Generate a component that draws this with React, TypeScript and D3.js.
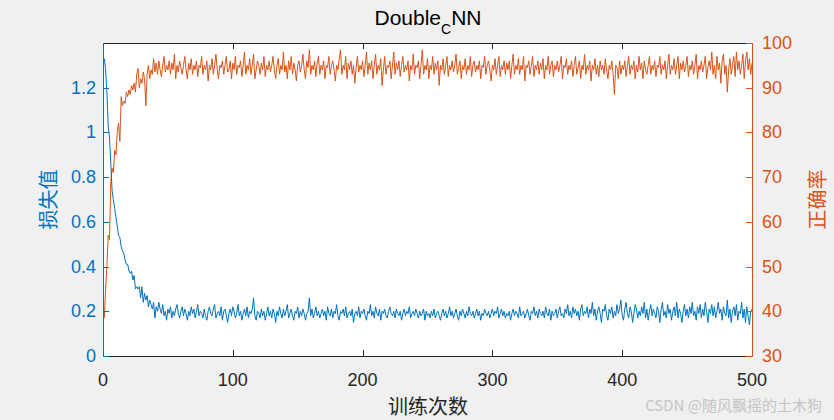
import React from "react";
import * as d3 from "d3";

const lossValues: number[] = [
  1.33, 1.28, 1.18, 1.03, 0.98, 0.86, 0.74, 0.70, 0.66, 0.62,
  0.58, 0.54, 0.53, 0.49, 0.47, 0.46, 0.43, 0.41, 0.41, 0.38,
  0.37, 0.38, 0.34, 0.36, 0.30, 0.31, 0.30, 0.31, 0.26, 0.31,
  0.24, 0.28, 0.25, 0.27, 0.22, 0.25, 0.23, 0.21, 0.24, 0.17,
  0.22, 0.20, 0.24, 0.21, 0.19,
  0.23, 0.18, 0.20, 0.16, 0.21, 0.19, 0.22, 0.17, 0.20, 0.18,
  0.21, 0.23, 0.19, 0.17, 0.20, 0.22, 0.18, 0.21, 0.19, 0.16,
  0.20, 0.18, 0.22, 0.19, 0.21, 0.17, 0.20, 0.23, 0.18, 0.20,
  0.19, 0.17, 0.21, 0.18, 0.16, 0.20, 0.22, 0.19, 0.18, 0.21,
  0.23, 0.17, 0.19, 0.20, 0.18, 0.22, 0.16, 0.20, 0.21, 0.18,
  0.15, 0.19, 0.21, 0.18, 0.22, 0.20, 0.17, 0.19, 0.23, 0.18,
  0.20, 0.16, 0.19, 0.21, 0.18, 0.22, 0.17, 0.20, 0.19, 0.21,
  0.26, 0.18, 0.16, 0.20, 0.19, 0.17, 0.21, 0.18, 0.20, 0.16,
  0.19, 0.22, 0.18, 0.20, 0.17, 0.21, 0.19, 0.15, 0.20, 0.18,
  0.22, 0.19, 0.17, 0.21, 0.18, 0.20, 0.23, 0.17, 0.19, 0.21,
  0.18, 0.16, 0.20, 0.19, 0.22, 0.17, 0.20, 0.18, 0.21, 0.19,
  0.16, 0.19, 0.20, 0.26, 0.18, 0.21, 0.17, 0.19, 0.22, 0.18,
  0.20, 0.17, 0.19, 0.21, 0.18, 0.20, 0.16, 0.22, 0.19, 0.18,
  0.21, 0.17, 0.20, 0.19, 0.23, 0.18, 0.16, 0.20, 0.19, 0.21,
  0.18, 0.22, 0.17, 0.19, 0.20, 0.18, 0.21, 0.15, 0.19, 0.20,
  0.18, 0.22, 0.17, 0.20, 0.19, 0.21, 0.18, 0.16, 0.20, 0.19,
  0.23, 0.18, 0.20, 0.17, 0.22, 0.19, 0.18, 0.21, 0.16, 0.20,
  0.19, 0.21, 0.18, 0.17, 0.20, 0.22, 0.19, 0.18, 0.20, 0.17,
  0.21, 0.19, 0.18, 0.20, 0.16, 0.19, 0.21, 0.18, 0.20, 0.19,
  0.22, 0.17, 0.19, 0.20, 0.18, 0.21, 0.19, 0.17, 0.20, 0.18,
  0.19, 0.21, 0.16, 0.20, 0.18, 0.19, 0.17, 0.20, 0.18, 0.21,
  0.17, 0.19, 0.20, 0.18, 0.16, 0.19, 0.21, 0.18, 0.20, 0.17,
  0.19, 0.22, 0.18, 0.20, 0.17, 0.19, 0.21, 0.18, 0.16, 0.20,
  0.18, 0.21, 0.19, 0.17, 0.20, 0.18, 0.22, 0.19, 0.18, 0.20,
  0.17, 0.19, 0.21, 0.18, 0.20, 0.16, 0.19, 0.18, 0.21, 0.19,
  0.18, 0.20, 0.17, 0.19, 0.21, 0.18, 0.20, 0.19, 0.22, 0.17,
  0.19, 0.21, 0.18, 0.20, 0.17, 0.19, 0.18, 0.20, 0.16, 0.19,
  0.21, 0.18, 0.20, 0.19, 0.17, 0.22, 0.18, 0.19, 0.20, 0.17,
  0.19, 0.21, 0.18, 0.16, 0.20, 0.19, 0.22, 0.18, 0.20, 0.17,
  0.21, 0.19, 0.18, 0.20, 0.17, 0.22, 0.19, 0.18, 0.21, 0.16,
  0.20, 0.18, 0.19, 0.21, 0.17, 0.20, 0.22, 0.18, 0.19, 0.17,
  0.21, 0.19, 0.23, 0.18, 0.20, 0.17, 0.22, 0.19, 0.21, 0.18,
  0.20, 0.16, 0.21, 0.23, 0.18, 0.20, 0.19, 0.22, 0.17, 0.21,
  0.19, 0.24, 0.18, 0.21, 0.16, 0.20, 0.22, 0.19, 0.15, 0.21,
  0.20, 0.23, 0.18, 0.16, 0.21, 0.19, 0.22, 0.17, 0.20, 0.18,
  0.23, 0.19, 0.21, 0.25, 0.18, 0.16, 0.21, 0.24, 0.19, 0.17,
  0.22, 0.20, 0.15, 0.19, 0.23, 0.21, 0.17, 0.20, 0.18, 0.22,
  0.19, 0.24, 0.17, 0.21, 0.16, 0.20, 0.23, 0.18, 0.21, 0.19,
  0.17, 0.22, 0.20, 0.15, 0.21, 0.24, 0.18, 0.20, 0.17, 0.23,
  0.19, 0.21, 0.16, 0.20, 0.22, 0.18, 0.24, 0.17, 0.21, 0.19,
  0.15, 0.20, 0.23, 0.18, 0.21, 0.17, 0.22, 0.19, 0.24, 0.18,
  0.20, 0.16, 0.22, 0.19, 0.23, 0.17, 0.21, 0.18, 0.24, 0.20,
  0.15, 0.21, 0.19, 0.23, 0.18, 0.22, 0.17, 0.20, 0.24, 0.19,
  0.21, 0.16, 0.22, 0.19, 0.18, 0.25, 0.17, 0.21, 0.15, 0.20,
  0.22, 0.18, 0.23, 0.16, 0.20, 0.19, 0.24, 0.17, 0.21, 0.15,
  0.22, 0.18, 0.14, 0.20, 0.21,
];

const accValues: number[] = [
  38.5, 45, 50, 57, 56, 69, 72, 71, 76, 75,
  80, 82, 78, 88, 86, 87, 86.5, 89, 88, 89.5,
  88.5, 90.5, 89.5, 91, 89, 93, 94.3, 90, 92, 91,
  93.5, 92, 86, 93, 95, 92, 94, 93, 96.5, 93.5,
  95.5, 93, 96, 94, 92.5, 95, 97, 93.5, 95, 94,
  96, 93, 95.5, 94, 97.5, 92, 95, 93.5, 96, 94.5,
  93, 95, 97, 94, 92, 95.5, 94, 96.5, 93, 95,
  94, 96, 92.5, 95, 94.5, 97, 93, 95, 94, 96,
  91.5, 95, 94, 96.5, 93, 95, 97.5, 94, 92, 95,
  94.5, 96, 93, 95, 97, 93.5, 94, 96, 92, 95.5,
  94, 97, 93, 95, 94.5, 96, 92.5, 95, 98, 93,
  95, 94, 96.5, 93, 95, 97.5, 92, 94, 96, 95,
  93, 95.5, 94, 97, 92.5, 95, 94, 96, 93.5, 95,
  97, 94, 92, 95, 96.5, 93, 95, 94, 98, 93.5,
  95, 92, 96, 94, 97, 93, 95.5, 94, 91.5, 95,
  96, 93.5, 95, 97.5, 94, 92, 96, 94.5, 98.5, 93,
  95, 94, 96, 92.5, 95.5, 97, 93, 95, 94, 96,
  92, 95, 94.5, 97, 93, 95, 96, 94, 91.5, 95,
  94, 96.5, 98.5, 93, 95, 94, 97, 92, 95.5, 94,
  96, 93, 95, 91, 94.5, 97, 93.5, 95, 94, 96,
  92.5, 95, 98, 93, 95.5, 94, 96, 92, 95, 97.5,
  93, 95, 94, 96.5, 90.5, 94, 97, 93, 95, 94.5,
  96, 92, 95, 98, 93, 95.5, 94, 96, 92.5, 95,
  97, 93.5, 95, 94, 96, 91.5, 95, 94, 97.5, 93,
  95, 94.5, 96, 92, 95, 98.5, 93, 95, 94, 96.5,
  92, 95, 94, 97, 93, 95.5, 94, 96, 90.5, 95,
  94, 96.5, 93, 95, 97, 92.5, 95, 94, 96, 93.5,
  95, 97.5, 93, 94.5, 96, 92, 95, 94, 96.5, 93,
  95, 94, 97, 92.5, 95, 96, 93.5, 95, 94, 96,
  92, 95, 94.5, 97, 93, 95, 96, 94, 91.5, 95,
  94, 96.5, 93, 95, 97, 92.5, 95, 94, 96, 93,
  95.5, 94, 96, 92, 95, 97.5, 93, 95, 94, 96.5,
  93, 95, 94, 97, 91.5, 95, 94.5, 96, 93, 95,
  97, 92.5, 95, 94, 96, 93, 95.5, 94, 96.5, 92,
  95, 94, 97, 93, 95, 96, 92.5, 95, 94, 96,
  93.5, 95, 97, 92, 95, 94.5, 96.5, 93, 95, 94,
  96, 92.5, 95, 97, 93, 94.5, 96, 92, 95, 94,
  97.5, 93, 95, 94, 96, 91.5, 95, 94, 96.5, 93,
  95, 92.5, 96, 94, 95, 93, 96.5, 94, 92, 95,
  94, 96, 93, 88.5, 95, 94.5, 92, 96, 93, 95,
  94, 96, 92.5, 95, 97, 93, 95, 94, 96, 92,
  95, 93.5, 97, 94, 95.5, 92, 96, 94, 93, 95,
  97, 93, 95, 94, 96, 92.5, 95, 94.5, 97, 93,
  95, 94, 96, 92, 95, 97.5, 93, 95, 94, 96.5,
  93, 95, 97, 92, 95.5, 94, 96, 93.5, 95, 97,
  92.5, 95, 94, 96, 93, 95, 97.5, 92, 95, 94,
  96, 93.5, 95, 97, 92, 94.5, 96, 94, 98, 93,
  95, 92, 97, 94, 95.5, 91, 96, 97.5, 93, 95,
  89, 94, 96.5, 93, 95, 97, 92.5, 98, 94, 96,
  93, 95, 97.5, 92, 96, 98, 94, 96.5, 93, 95.5,
];

const xTicks = [0, 100, 200, 300, 400, 500];
const lossTicks = [0, 0.2, 0.4, 0.6, 0.8, 1, 1.2];
const accTicks = [30, 40, 50, 60, 70, 80, 90, 100];

const W = 834;
const H = 420;
const L = 103;
const R = 752;
const T = 43;
const B = 356;
const BLUE = "#0072BD";
const ORANGE = "#D95319";
const DARK = "#262626";
const FONT = "Arial, 'Liberation Sans', Helvetica, sans-serif";
const CJK = "'Noto Sans CJK SC', sans-serif";
const TICK = 6;

export default function App() {
  const x = d3.scaleLinear().domain([0, 500]).range([L, R]);
  const yL = d3.scaleLinear().domain([0, 1.4]).range([B, T]);
  const yR = d3.scaleLinear().domain([30, 100]).range([B, T]);
  const fmt = d3.format("~g");

  const lossLine = d3
    .line<number>()
    .x((_, i) => x(i + 1))
    .y((d) => yL(d));
  const accLine = d3
    .line<number>()
    .x((_, i) => x(i + 1))
    .y((d) => yR(d));

  return (
    <svg
      width={W}
      height={H}
      style={{ position: "absolute", left: 0, top: 0, background: "#f0f0f0" }}
    >
      <rect x={0} y={0} width={W} height={H} fill="#f0f0f0" />
      <rect x={L} y={T} width={R - L} height={B - T} fill="#ffffff" />

      <path d={accLine(accValues) || ""} fill="none" stroke={ORANGE} strokeWidth={1} strokeLinejoin="round" />
      <path d={lossLine(lossValues) || ""} fill="none" stroke={BLUE} strokeWidth={1} strokeLinejoin="round" />

      {/* top & bottom axes */}
      <line x1={L} x2={R} y1={B + 0.5} y2={B + 0.5} stroke={DARK} strokeWidth={1} />
      <line x1={L} x2={R} y1={T + 0.5} y2={T + 0.5} stroke={DARK} strokeWidth={1} />
      {xTicks.map((t) => (
        <g key={"xt" + t}>
          <line x1={Math.round(x(t)) + 0.5} x2={Math.round(x(t)) + 0.5} y1={B} y2={B - TICK} stroke={DARK} />
          <line x1={Math.round(x(t)) + 0.5} x2={Math.round(x(t)) + 0.5} y1={T} y2={T + TICK} stroke={DARK} />
          <text x={x(t)} y={386} textAnchor="middle" fontFamily={FONT} fontSize={18} fill={DARK}>
            {t}
          </text>
        </g>
      ))}

      {/* left axis */}
      <line x1={L + 0.5} x2={L + 0.5} y1={T} y2={B + 1} stroke={BLUE} strokeWidth={1} />
      {lossTicks.map((t) => (
        <g key={"yl" + t}>
          <line x1={L} x2={L + TICK} y1={Math.round(yL(t)) + 0.5} y2={Math.round(yL(t)) + 0.5} stroke={BLUE} />
          <text x={96} y={yL(t) + 6} textAnchor="end" fontFamily={FONT} fontSize={18} fill={BLUE}>
            {fmt(t)}
          </text>
        </g>
      ))}

      {/* right axis */}
      <line x1={R + 0.5} x2={R + 0.5} y1={T} y2={B + 1} stroke={ORANGE} strokeWidth={1} />
      {accTicks.map((t) => (
        <g key={"yr" + t}>
          <line x1={R} x2={R - TICK} y1={Math.round(yR(t)) + 0.5} y2={Math.round(yR(t)) + 0.5} stroke={ORANGE} />
          <text x={762} y={yR(t) + 6} textAnchor="start" fontFamily={FONT} fontSize={18} fill={ORANGE}>
            {t}
          </text>
        </g>
      ))}

      {/* title */}
      <text x={428} y={25} textAnchor="middle" fontFamily={FONT} fontSize={21} fill="#000">
        Double
        <tspan fontSize={14} dy={9}>C</tspan>
        <tspan dy={-9}>NN</tspan>
      </text>

      {/* axis labels */}
      <text x={428} y={414} textAnchor="middle" fontFamily={CJK} fontSize={20} fill={DARK}>
        训练次数
      </text>
      <text
        transform={`translate(56, ${(T + B) / 2}) rotate(-90)`}
        textAnchor="middle"
        fontFamily={CJK}
        fontSize={20}
        fill={BLUE}
      >
        损失值
      </text>
      <text
        transform={`translate(825, ${(T + B) / 2}) rotate(-90)`}
        textAnchor="middle"
        fontFamily={CJK}
        fontSize={20}
        fill={ORANGE}
      >
        正确率
      </text>

      {/* watermark */}
      <text x={822} y={411} textAnchor="end" fontFamily={CJK} fontSize={15} fill="#c4c4c4">
        CSDN @随风飘摇的土木狗
      </text>
    </svg>
  );
}
